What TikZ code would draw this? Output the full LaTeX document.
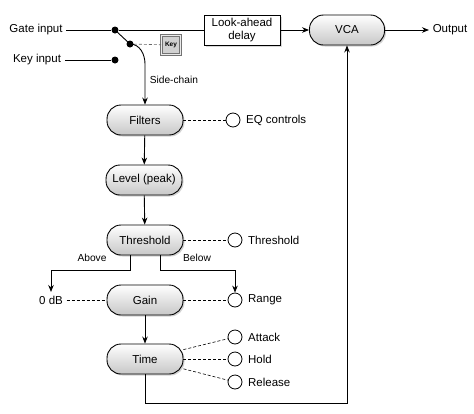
\documentclass[tikz,border=0pt]{standalone}
\usepackage{fontspec}
\setmainfont{Liberation Sans}
\usetikzlibrary{arrows.meta,positioning,calc,shadows}

\begin{document}
\begin{tikzpicture}[x=1pt, y=-1pt, line width=0.9pt, >={Stealth[length=7pt,width=5.5pt]},
    every node/.style={font=\fontsize{11.5}{13.5}\selectfont},
    block/.style={draw, rectangle, rounded corners=14pt, minimum width=76pt, minimum height=30pt, inner sep=1pt,
      top color=white, bottom color=black!22, drop shadow={opacity=0.35, shadow xshift=1.5pt, shadow yshift=-1.5pt}},
    knob/.style={circle, draw, fill=white, minimum size=14pt, inner sep=0pt, line width=0.8pt},
    dot/.style={circle, fill, inner sep=0pt, minimum size=7pt},
    ctrl/.style={densely dashed, line width=0.6pt},
    small/.style={font=\fontsize{10.2}{12}\selectfont},
    keybox/.style={draw=black!55, double=black!8, double distance=1.3pt, fill=black!18, minimum size=19pt, inner sep=0pt, font=\fontsize{6.5}{7}\selectfont\bfseries}]
      \useasboundingbox (0,0) rectangle (474,413);

      % inputs and switch
      \node (gate) at (36,30) {Gate input};
      \node (key) at (37,60) {Key input};
      \node[dot] (gdot) at (115,30) {};
      \node[dot] (kdot) at (115,60) {};
      \node[dot] (pivot) at (130,44) {};
      \node[keybox] (keysw) at (171,45) {Key};
      \coordinate (bend) at (145,64);
      \node[small, right=1pt of bend, yshift=-16pt] (side) {Side-chain};

      % main path
      \node[draw, fill=white, minimum width=76pt, minimum height=30pt, inner sep=1pt, align=center,
        drop shadow={opacity=0.3, shadow xshift=1.5pt, shadow yshift=-1.5pt}] (delay) at (242,30) {Look-ahead\\delay};
      \node[block, minimum width=75pt] (vca) at (347,30) {VCA};
      \node[anchor=west] (out) at (429,30) {Output};

      % side chain
      \node[block] (filters) at (145,120) {Filters};
      \node[block] (level) at (144,180) {Level (peak)};
      \node[block] (thresh) at (145,240) {Threshold};
      \node[block] (gain) at (145,300) {Gain};
      \node[block] (time) at (145,359) {Time};

      % controls
      \node[knob] (eq) at (233,120) {};
      \node[knob] (thr) at (235,240) {};
      \node[knob] (range) at (235,300) {};
      \node[knob] (attack) at (235,337) {};
      \node[knob] (hold) at (235,359) {};
      \node[knob] (release) at (235,382) {};
      \node[right=2pt of eq] (eq_l) {EQ controls};
      \node[right=2pt of thr] (thr_l) {Threshold};
      \node[right=2pt of range] (range_l) {Range};
      \node[right=2pt of attack] (attack_l) {Attack};
      \node[right=2pt of hold] (hold_l) {Hold};
      \node[right=2pt of release] (release_l) {Release};
      \node (zerodb) at (51,300) {0 dB};
      \node[small] (above) at (92,258) {Above};
      \node[small] (below) at (197,258) {Below};

      \draw (gate) -- (gdot) -- (delay);
      \draw (key) -- (kdot);
      \draw (gdot.center) -- (pivot.center);
      \draw[ctrl, black!60] (pivot) -- (keysw);
      \draw[->] (pivot.center) to[out=0, in=90] (bend) -- (filters);
      \draw[->] (delay) -- (vca);
      \draw[->] (vca) -- (out);

      \draw[->] (filters) -- (level);
      \draw[->] (level) -- (thresh);
      \draw[->] ([xshift=-15pt]thresh.south) -- ++(0,15) -| (zerodb);
      \draw[->] ([xshift=15pt]thresh.south) -- ++(0,15) -| (range);
      \draw[->] (gain) -- (time);
      \draw[->] (time.south) -- ++(0,29) -| (vca.south);

      \draw[ctrl] (filters) -- (eq);
      \draw[ctrl] (thresh) -- (thr);
      \draw[ctrl] (zerodb) -- (gain);
      \draw[ctrl] (gain) -- (range);
      \draw[ctrl] (time) -- (attack);
      \draw[ctrl] (time) -- (hold);
      \draw[ctrl] (time) -- (release);
    \end{tikzpicture}
\end{document}
